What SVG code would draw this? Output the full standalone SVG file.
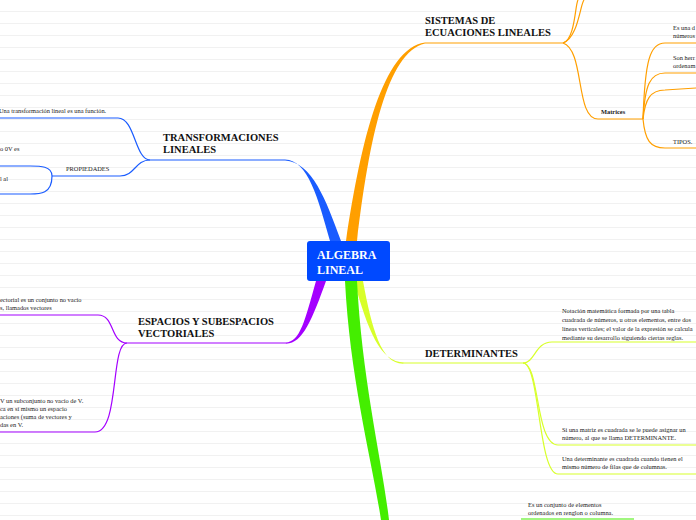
<svg xmlns="http://www.w3.org/2000/svg" width="696" height="520" viewBox="0 0 696 520">
<defs>
<pattern id="bg" width="696" height="12" patternUnits="userSpaceOnUse"><line x1="0" y1="11.5" x2="696" y2="11.5" stroke="#f1f1f1" stroke-width="1"/></pattern>
<style>
.t{font-family:"Liberation Serif",serif;font-size:10.5px;font-weight:bold;fill:#111}
.s{font-family:"Liberation Serif",serif;font-size:6.4px;fill:#222}
.sb{font-family:"Liberation Serif",serif;font-size:6.4px;font-weight:bold;fill:#222}
.c{fill:none;stroke-width:1.2}
.o{stroke:#ff9f00}.b{stroke:#1a5cff}.p{stroke:#a400ff}.y{stroke:#d8ff2a}.g{stroke:#44ee00}
</style>
</defs>
<rect width="696" height="520" fill="#fff"/>
<rect width="696" height="520" fill="url(#bg)"/>
<g id="connectors">
<path d="M346,241 C361,140 383,48 425,42.4 L425,43.6 C387,52 369,140 357,241 Z" fill="#ff9f00"/>
<path class="c o" d="M425,43 L563,43"/>
<path class="c o" d="M563,43 C575,40 575,5 578,0"/>
<path class="c o" d="M563,43 C578,38 580,5 584,0"/>
<path class="c o" d="M563,43 C585,50 575,119 598,119 L643,119"/>
<path class="c o" d="M643,119 C645,60 650,43 665,43 L696,43"/>
<path class="c o" d="M643,119 C645,85 650,73 665,73 L696,73"/>
<path class="c o" d="M643,119 C645,100 650,90 665,90 L696,88"/>
<path class="c o" d="M643,119 C645,140 650,148 665,148 L696,148"/>
<path d="M330,241 C318,198 308,160 285,159.4 L285,160.6 C312,162 326,200 341,241 Z" fill="#1a5cff"/>
<path class="c b" d="M285,160 L150,160 C135,160 135,118 118,118 L0,118"/>
<path class="c b" d="M150,160 C135,160 135,176 120,176 L52,176"/>
<path class="c b" d="M52,176 C52,166 40,166 30,166 L0,166"/>
<path class="c b" d="M52,176 C52,194 40,194 30,194 L0,194"/>
<path d="M316,281 C305,320 300,343 285,342.4 L285,343.6 C302,345 312,320 326,281 Z" fill="#a400ff"/>
<path class="c p" d="M285,343 L127,343 C110,343 115,315 98,315 L0,315"/>
<path class="c p" d="M127,343 C110,343 120,432 95,432 L0,432"/>
<path d="M354,281 C368,330 380,363 405,362.4 L405,363.6 C382,366 372,330 363,281 Z" fill="#d8ff2a"/>
<path class="c y" d="M405,363 L523,363 C535,363 535,342 552,342 L696,342"/>
<path class="c y" d="M523,363 C540,363 535,445 558,445 L696,445"/>
<path class="c y" d="M523,363 C540,363 538,474 558,474 L696,474"/>
<path d="M345,281 C350,380 372,460 381,520 L389,520 C382,460 362,380 357,281 Z" fill="#44ee00"/>
<path class="c g" d="M521,519 L634,519"/>
</g>
<g id="n-root"><rect x="307" y="241" width="83" height="40" rx="3" fill="#0049ff"/><text x="317" y="259" font-family="Liberation Serif,serif" font-size="12" font-weight="bold" fill="#fff">ALGEBRA</text><text x="317" y="274" font-family="Liberation Serif,serif" font-size="12" font-weight="bold" fill="#fff">LINEAL</text></g>
<g id="n-sistemas"><text class="t" x="425" y="24">SISTEMAS DE</text><text class="t" x="425" y="36">ECUACIONES LINEALES</text></g>
<g id="n-matrices"><text class="sb" x="601" y="114">Matrices</text></g>
<g id="n-m1"><text class="s" x="673" y="30">Es una d</text><text class="s" x="673" y="38">números</text></g>
<g id="n-m2"><text class="s" x="673" y="60">Son herr</text><text class="s" x="673" y="68">ordenam</text></g>
<g id="n-m3"><text class="s" x="673" y="144">TIPOS.</text></g>
<g id="n-trans"><text class="t" x="163" y="141">TRANSFORMACIONES</text><text class="t" x="163" y="153">LINEALES</text></g>
<g id="n-t1"><text class="s" x="-1" y="113">Una transformación lineal es una función.</text></g>
<g id="n-prop"><text class="s" x="66" y="171">PROPIEDADES</text></g>
<g id="n-p1"><text class="s" x="0" y="151">o 0V es</text></g>
<g id="n-p2"><text class="s" x="0" y="181">l al</text></g>
<g id="n-esp"><text class="t" x="138" y="325">ESPACIOS Y SUBESPACIOS</text><text class="t" x="138" y="337">VECTORIALES</text></g>
<g id="n-e1"><text class="s" x="0" y="302">ectorial es un conjunto no vacío</text><text class="s" x="0" y="310">s, llamados vectores</text></g>
<g id="n-e2"><text class="s" x="0" y="403">V un subconjunto no vacío de V.</text><text class="s" x="0" y="411">ca en sí mismo un espacio</text><text class="s" x="0" y="419">aciones (suma de vectores y</text><text class="s" x="0" y="427">das en V.</text></g>
<g id="n-det"><text class="t" x="425" y="357">DETERMINANTES</text></g>
<g id="n-d1"><text class="s" x="562" y="313">Notación matemática formada por una tabla</text><text class="s" x="562" y="322">cuadrada de números, u otros elementos, entre dos</text><text class="s" x="562" y="331">líneas verticales; el valor de la expresión se calcula</text><text class="s" x="562" y="340">mediante su desarrollo siguiendo ciertas reglas.</text></g>
<g id="n-d2"><text class="s" x="562" y="432">Si una matriz es cuadrada se le puede asignar un</text><text class="s" x="562" y="440">número, al que se llama DETERMINANTE.</text></g>
<g id="n-d3"><text class="s" x="562" y="461">Una determinante es cuadrada cuando tienen el</text><text class="s" x="562" y="469">mismo número de filas que de columnas.</text></g>
<g id="n-g1"><text class="s" x="528" y="507">Es un conjunto de elementos</text><text class="s" x="528" y="515">ordenados en renglon o columna.</text></g>
</svg>
